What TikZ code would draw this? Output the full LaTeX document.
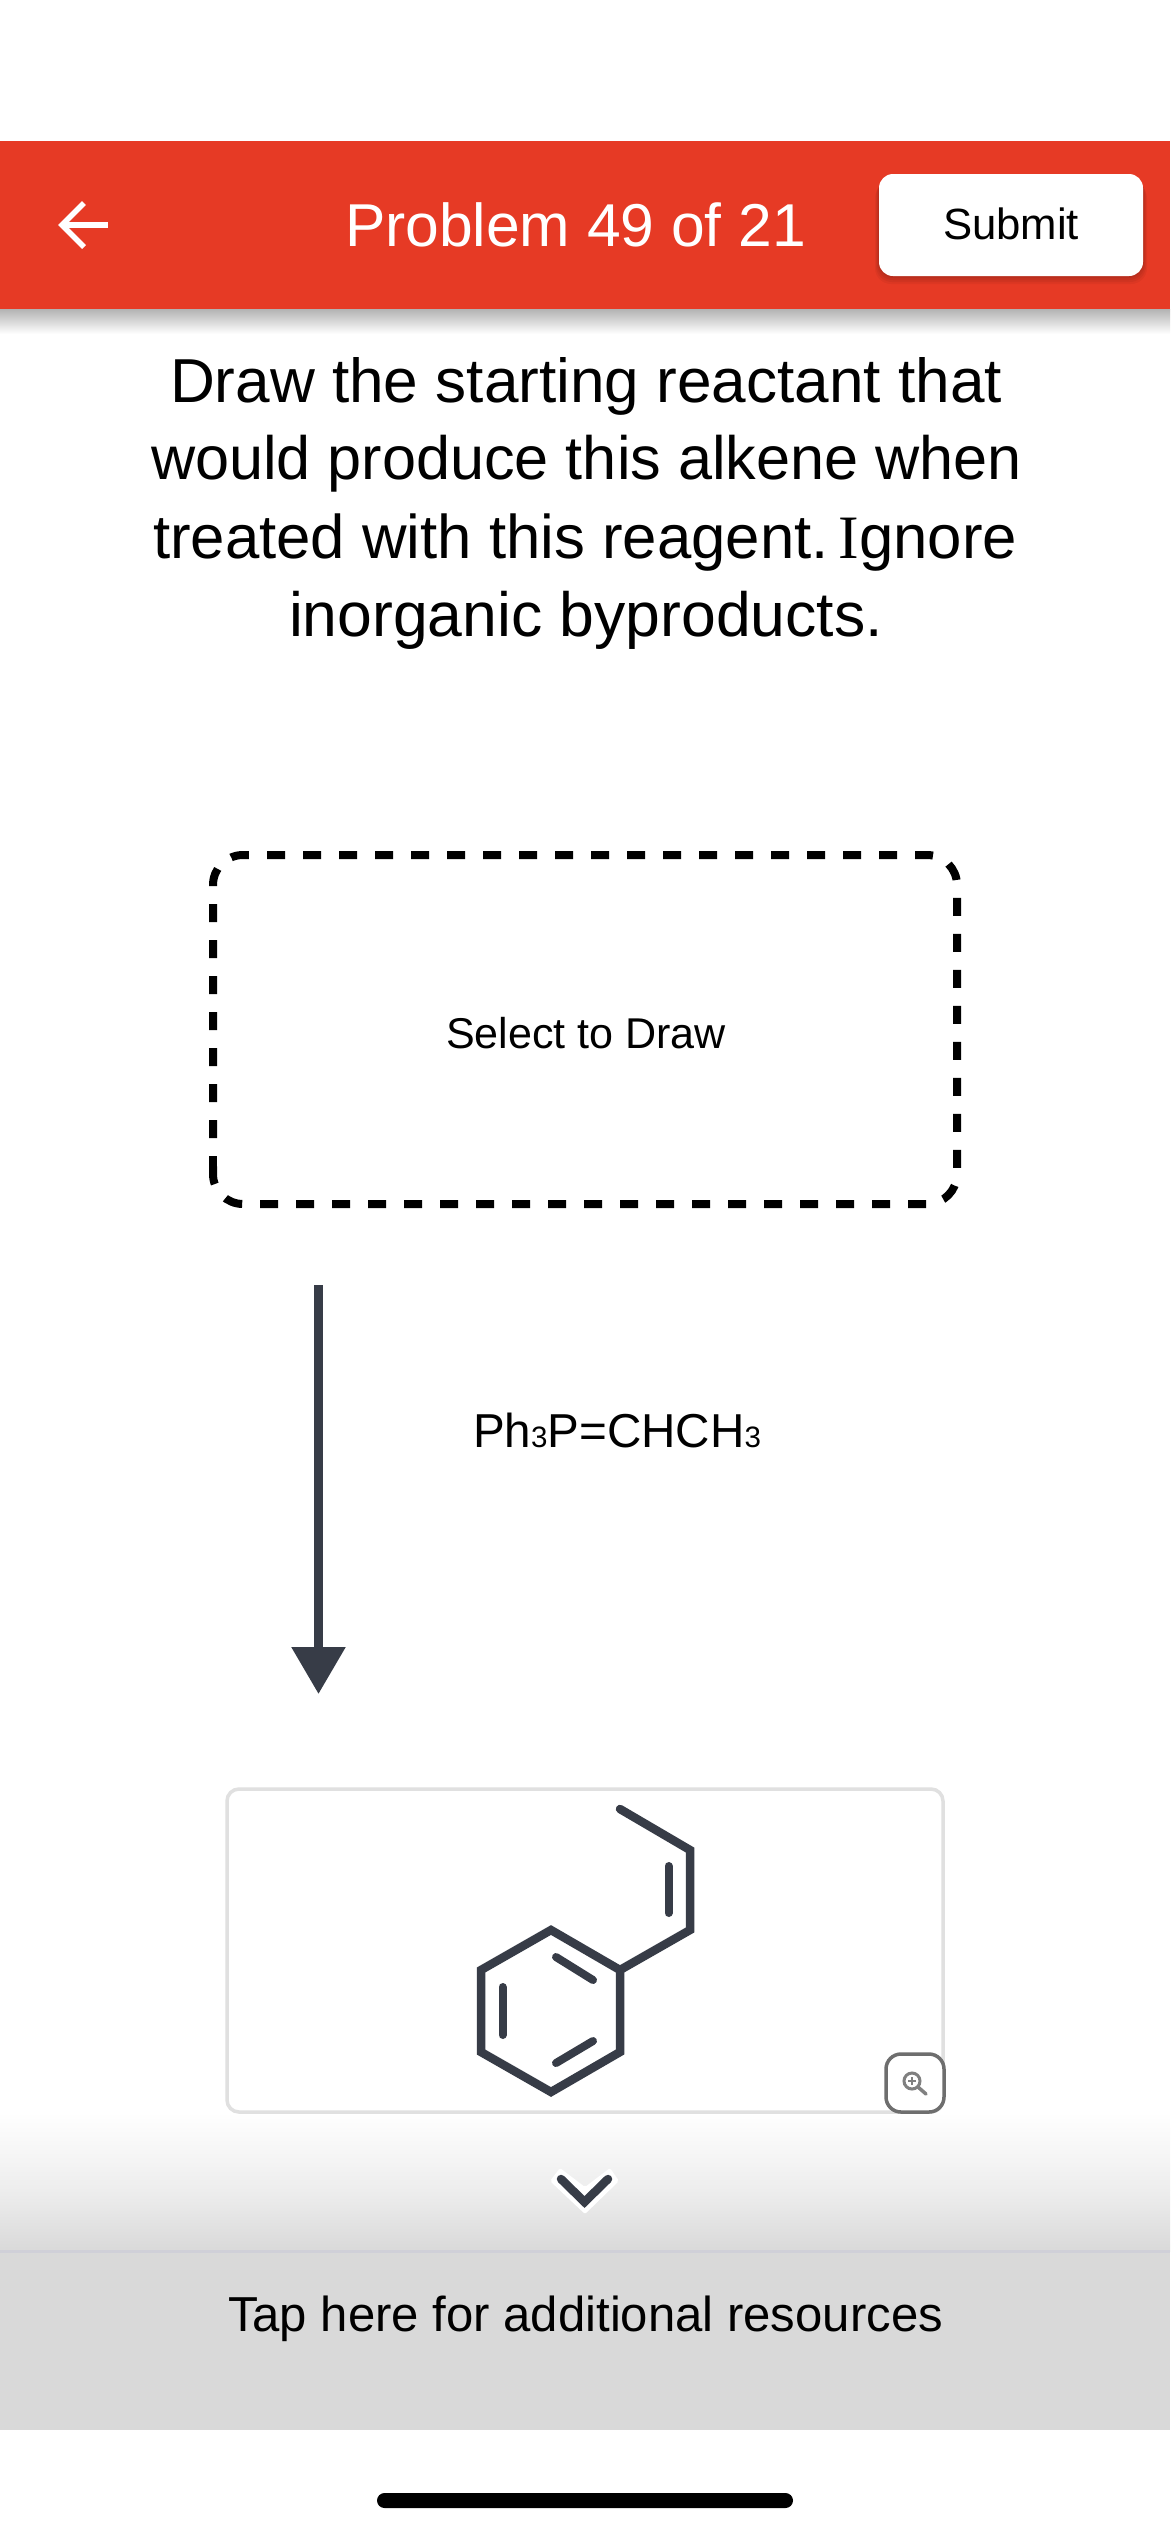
\documentclass[tikz,border=0pt]{standalone}
\usepackage{fontspec}
\usepackage{graphicx}
\setmainfont{Liberation Sans}
\newfontfamily\serifcap{Liberation Serif}
\usetikzlibrary{arrows.meta}
\definecolor{hdrred}{HTML}{E63A25}
\definecolor{ink}{HTML}{373C47}
\definecolor{boxline}{HTML}{E0E0E0}
\definecolor{bandgray}{HTML}{D9D9D9}
\definecolor{bandline}{HTML}{D0D0D8}
\definecolor{zoomgray}{HTML}{6E6E6E}
\newcommand{\fitto}[2]{\resizebox{#1pt}{!}{\fontsize{50}{50}\selectfont #2}}
\tikzset{
  x=1pt,y=-1pt,
  lbl/.style={anchor=base west,inner sep=0pt,outer sep=0pt,text=black},
  bond/.style={draw=ink,line width=8.5pt,line join=miter,line cap=round},
  inner bond/.style={draw=ink,line width=8pt,line cap=round},
  dashbox/.style={draw=black,line width=8pt,dash pattern=on 18pt off 18pt},
  dashsolid/.style={draw=black,line width=8pt},
}
\begin{document}
\begin{tikzpicture}
\useasboundingbox (0,0) rectangle (1170,2532);
\fill[white] (0,0) rectangle (1170,2532);

% header shadow and bar
\shade[top color=black!30,bottom color=white] (0,309) rectangle (1170,334);
\fill[hdrred] (0,141) rectangle (1170,309);
\draw[white,line width=5.5pt,line join=miter] (84,203) -- (62,225) -- (84,247);
\draw[white,line width=5.5pt] (62,225) -- (108,225);
\node[lbl,text=white] (title) at (345,246) {\fitto{461}{Problem 49 of 21}};

% submit button
\foreach \o/\e in {8/.04,6/.05,4/.05,2/.06}{
  \fill[black,opacity=\e,rounded corners=16pt] (879-\o/2,174+\o) rectangle (1143+\o/2,276+\o);
}
\fill[white,rounded corners=14pt] (879,174) rectangle (1143,276);
\node[lbl] (submit) at (943,239) {\fitto{136}{Submit}};

% question
\node[lbl] (q1) at (170,402) {\fitto{832}{Draw the starting reactant that}};
\node[lbl] (q2) at (151,479) {\fitto{871}{would produce this alkene when}};
\node[lbl] (q3) at (153,558) {\fitto{864}{treated with this reagent.\kern-.12em\ {\serifcap I}gnore}};
\node[lbl] (q4) at (289,636) {\fitto{594}{inorganic byproducts.}};

% dashed drawing area
\draw[dashbox] (267,855) -- (927,855) .. controls (943.57,855) and (957,868.43) .. (957,885)
  -- (957,1174) .. controls (957,1190.57) and (943.57,1204) .. (927,1204)
  -- (243,1204) .. controls (226.43,1204) and (213,1190.57) .. (213,1174) -- (213,1156);
\draw[dashsolid] (213,1167) -- (213,1156);
\draw[dashbox] (213,1138) -- (213,885) .. controls (213,868.43) and (226.43,855) .. (243,855) -- (249,855);
\node[lbl] (sel) at (446,1048) {\fitto{280}{Select to Draw}};

% reaction arrow and reagent
\coordinate (arrowtop) at (318.5,1285);
\coordinate (arrowend) at (318.5,1694);
\draw[draw=ink,fill=ink,line width=9pt,-{Triangle[length=47pt,width=52pt]}] (arrowtop) -- (arrowend);
\node[lbl] (reagent) at (473,1447) {\fitto{288}{Ph{\fontsize{31}{31}\selectfont 3}P=CHCH{\fontsize{31}{31}\selectfont 3}}};

% bottom gradient and band
\shade[top color=white,bottom color=black!7] (0,2112) rectangle (1170,2190);
\shade[top color=black!7,bottom color=bandgray] (0,2190) rectangle (1170,2251);
\fill[bandgray] (0,2251) rectangle (1170,2430);
\fill[bandline] (0,2249.5) rectangle (1170,2252.5);
\node[lbl] (tap) at (228,2331) {\fitto{715}{Tap here for additional resources}};
\fill[black,rounded corners=7.5pt] (377,2493) rectangle (793,2508);

% product box
\draw[boxline,line width=3.5pt,fill=white,rounded corners=12pt] (227,1789) rectangle (943,2112);

% product molecule
\draw[bond] (620,1970) -- (551,1930) -- (481,1970) -- (481,2052) -- (551,2092) -- (620,2052) -- cycle;
\draw[bond] (620,1809) -- (690,1850) -- (690,1930) -- (620,1970);
\draw[inner bond] (668.5,1866) -- (668.5,1913);
\draw[inner bond] (502.5,1987) -- (502.5,2035);
\draw[inner bond] (556,1957) -- (593,1980);
\draw[inner bond] (556,2063) -- (593,2041);

% zoom button
\draw[zoomgray,line width=3.5pt,fill=white,rounded corners=15pt] (886,2054) rectangle (944,2112);
\draw[gray,line width=3pt] (912,2081) circle[radius=8pt];
\draw[gray,line width=3.5pt,line cap=round] (918,2087) -- (926,2094);
\draw[gray,line width=2pt] (908,2081) -- (916,2081) (912,2077) -- (912,2085);

% chevron
\fill[white,rounded corners=2pt] (550,2181) -- (560,2168) -- (585,2187) -- (610,2168) -- (619,2181) -- (585,2214) -- cycle;
\draw[ink,line width=8.5pt,line cap=round,line join=miter] (561,2179) -- (584.5,2202) -- (608,2179);
\end{tikzpicture}
\end{document}
